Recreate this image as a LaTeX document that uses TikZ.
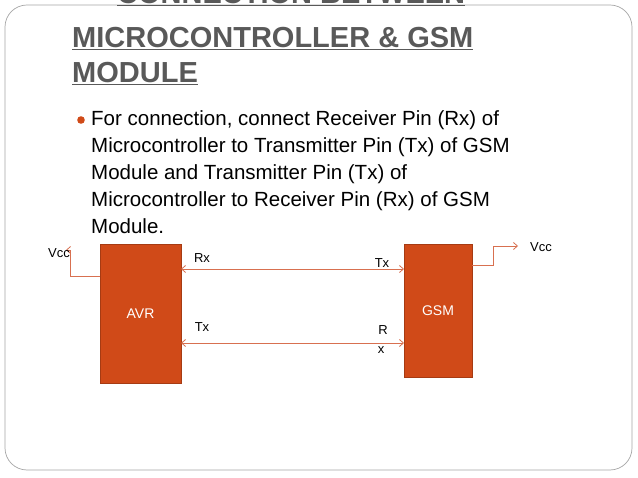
\documentclass[tikz,border=0pt]{standalone}
\usepackage{fontspec}
\setmainfont{Liberation Sans}
\definecolor{ttl}{HTML}{595959}
\definecolor{box}{HTML}{D04A18}
\definecolor{wire}{HTML}{D87050}
\usetikzlibrary{arrows.meta}
\tikzset{
  ttlline/.style={anchor=base west,font=\fontsize{29}{34}\selectfont\bfseries,text=ttl,inner sep=0},
  body/.style={anchor=base west,font=\fontsize{20.5}{27}\selectfont,inner sep=0},
  blk/.style={draw=box!80!black,fill=box,text=white,font=\fontsize{14}{16}\selectfont,inner sep=0},
  lbl/.style={font=\fontsize{13}{15}\selectfont,inner sep=0},
  conn/.style={draw=wire,line width=0.8pt,{Straight Barb[length=4pt,width=7pt]}-{Straight Barb[length=4pt,width=7pt]}},
  pw/.style={draw=wire,line width=0.8pt,-{Straight Barb[length=4pt,width=7pt]}}
}
\begin{document}
\begin{tikzpicture}[x=1pt,y=-1pt]
\useasboundingbox (0,0) rectangle (638,478);
\fill[white] (0,0) rectangle (638,478);
\draw[gray!70,line width=0.7pt,rounded corners=22] (5,5) rectangle (632,470);
\begin{scope}
\clip (0,0) rectangle (638,478);
\node[ttlline] (t1) at (117,4) {\underline{CONNECTION BETWEEN}};
\end{scope}
\node[ttlline] (t2) at (72,48) {\underline{MICROCONTROLLER \& GSM}};
\node[ttlline] (t3) at (72,83) {\underline{MODULE}};
\fill[box] (81,120) circle (3.8);
\node[body] (b1) at (91,126) {For connection, connect Receiver Pin (Rx) of};
\node[body] (b2) at (91,153) {Microcontroller to Transmitter Pin (Tx) of GSM};
\node[body] (b3) at (91,180) {Module and Transmitter Pin (Tx) of};
\node[body] (b4) at (91,207) {Microcontroller to Receiver Pin (Rx) of GSM};
\node[body] (b5) at (91,234) {Module.};
\node[blk,minimum width=81,minimum height=139] (avr) at (140.5,313.5) {AVR};
\node[blk,minimum width=68,minimum height=133] (gsm) at (438,310.5) {GSM};
\coordinate (a1) at (181,269);
\coordinate (g1) at (404,269);
\coordinate (a2) at (181,343);
\coordinate (g2) at (404,343);
\draw[conn] (a1) -- (g1);
\draw[conn] (a2) -- (g2);
\node[lbl] (rx1) at (202,258) {Rx};
\node[lbl] (tx1) at (382,263) {Tx};
\node[lbl] (tx2) at (202,327) {Tx};
\node[lbl] (rx2) at (383,330) {R};
\node[lbl] (rx3) at (381,350) {x};
\coordinate (lv0) at (100,276);
\coordinate (lv1) at (70,276);
\coordinate (lv2) at (70,250);
\coordinate (lv3) at (66,250);
\draw[pw] (lv0) -- (lv1) -- (lv2) -- (lv3);
\node[lbl,anchor=east] (vccl) at (70,253) {Vcc};
\coordinate (rv0) at (472,265);
\coordinate (rv1) at (493,265);
\coordinate (rv2) at (493,246);
\coordinate (rv3) at (518,246);
\draw[pw] (rv0) -- (rv1) -- (rv2) -- (rv3);
\node[lbl] (vccr) at (541,247) {Vcc};
\end{tikzpicture}
\end{document}
